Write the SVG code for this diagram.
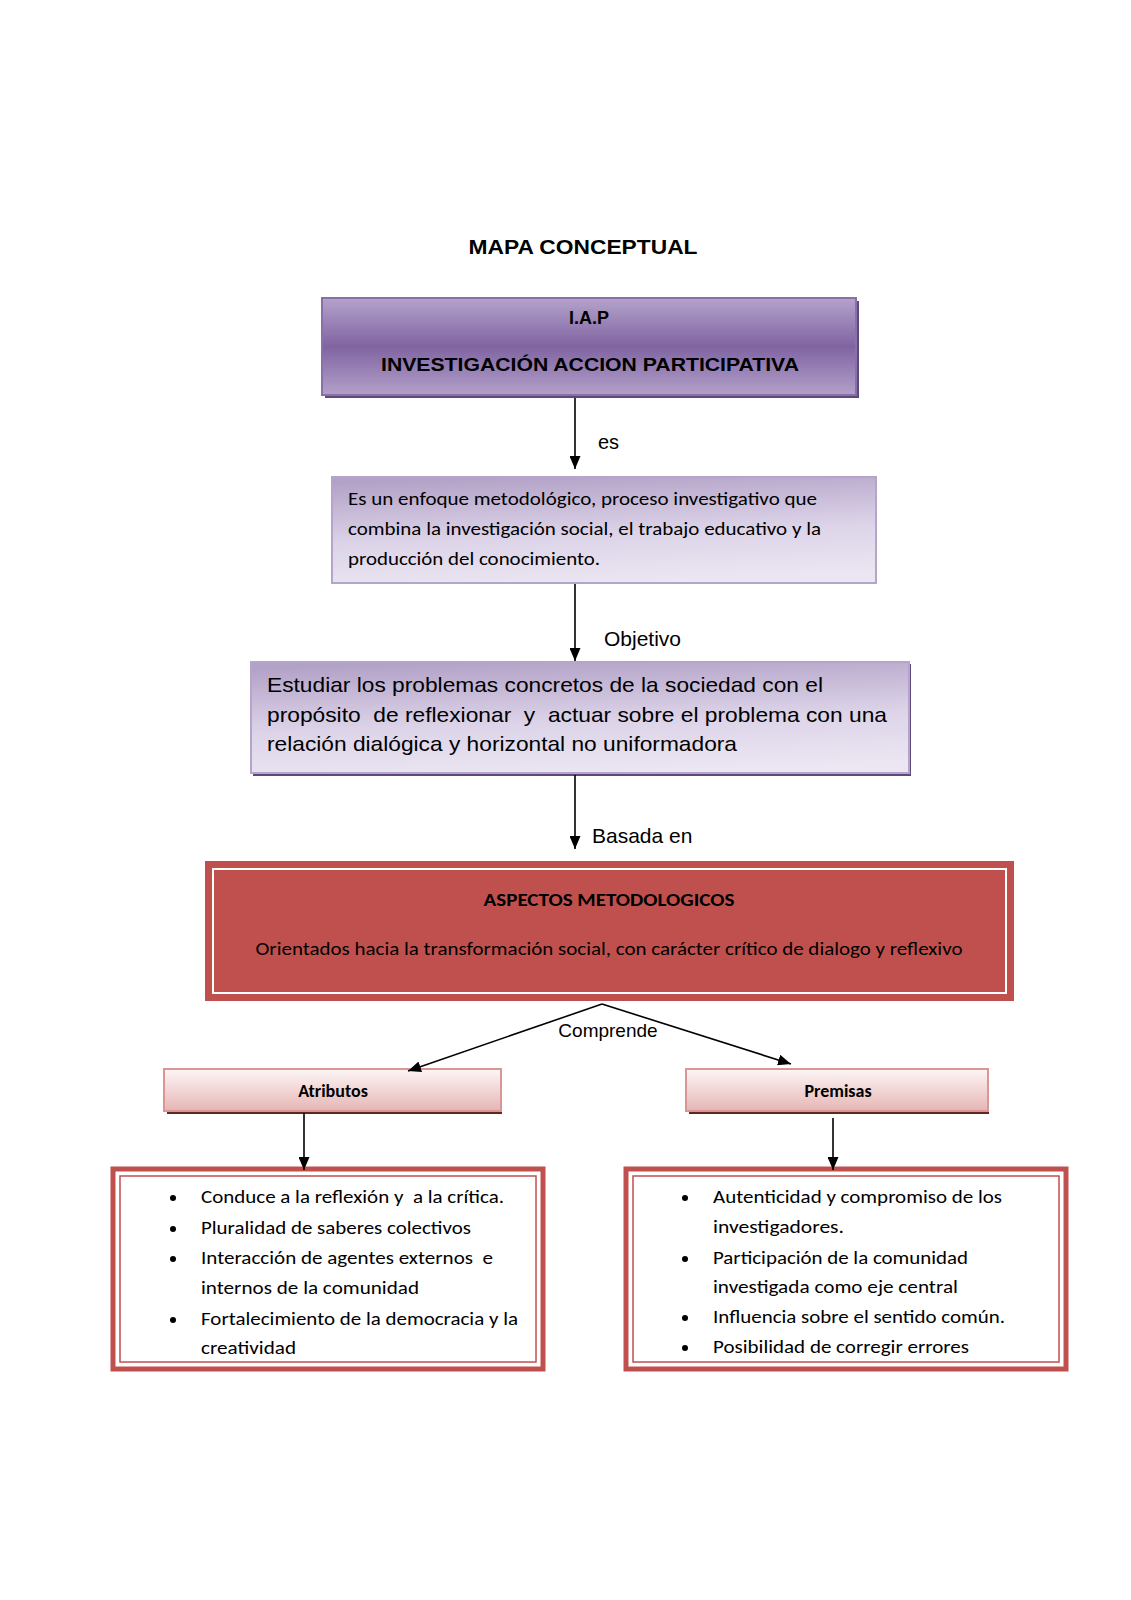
<svg xmlns="http://www.w3.org/2000/svg" width="1131" height="1600" viewBox="0 0 1131 1600">
<style>
.ar{font-family:"Liberation Sans",Arial,sans-serif;fill:#000}
.cb{font-family:Carlito,Lato,"Liberation Sans",sans-serif;fill:#000}
.b{font-weight:bold}
.conn{stroke:#000;stroke-width:1.6;fill:none}
.pre{white-space:pre}
</style>
<defs>
<linearGradient id="gP1" x1="0" y1="0" x2="0" y2="1">
<stop offset="0" stop-color="#b4a3cb"/>
<stop offset="0.5" stop-color="#8064a2"/>
<stop offset="1" stop-color="#b2a1c9"/>
</linearGradient>
<linearGradient id="gP2" x1="0.3" y1="0" x2="0.5" y2="1">
<stop offset="0" stop-color="#b3a2c7"/>
<stop offset="0.55" stop-color="#dcd3e8"/>
<stop offset="1" stop-color="#ebe6f2"/>
</linearGradient>
<linearGradient id="gR" x1="0" y1="0" x2="0" y2="1">
<stop offset="0" stop-color="#fdf6f6"/>
<stop offset="1" stop-color="#e5b6b5"/>
</linearGradient>
<marker id="ah2" viewBox="0 0 13 11" refX="13" refY="5.5" markerWidth="13" markerHeight="11" markerUnits="userSpaceOnUse" orient="auto">
<path d="M0,0 L13,5.5 L0,11 z" fill="#000"/>
</marker>
</defs>
<rect width="1131" height="1600" fill="#fff"/>

<text id="title" class="ar b" x="583" y="254" font-size="20" text-anchor="middle" textLength="229" lengthAdjust="spacingAndGlyphs">MAPA CONCEPTUAL</text>

<g id="n-iap">
<rect x="325" y="301" width="534" height="97" fill="#5f497a"/>
<rect x="322" y="298" width="534" height="97" fill="url(#gP1)" stroke="#8a70ab" stroke-width="2"/>
<text class="ar b" x="589" y="324" font-size="18" text-anchor="middle">I.A.P</text>
<text class="ar b" x="590" y="371" font-size="18" text-anchor="middle" textLength="418" lengthAdjust="spacingAndGlyphs">INVESTIGACIÓN ACCION PARTICIPATIVA</text>
</g>

<g id="n-enfoque">
<rect x="332" y="477" width="544" height="106" fill="url(#gP2)" stroke="#b5a4cb" stroke-width="2"/>
<text class="cb" font-size="18">
<tspan x="348" y="505" textLength="469" lengthAdjust="spacingAndGlyphs">Es un enfoque metodológico, proceso investigativo que</tspan>
<tspan x="348" y="535" textLength="473" lengthAdjust="spacingAndGlyphs">combina la investigación social, el trabajo educativo y la</tspan>
<tspan x="348" y="565" textLength="252" lengthAdjust="spacingAndGlyphs">producción del conocimiento.</tspan>
</text>
</g>

<g id="n-objetivo">
<rect x="253" y="664" width="658" height="112" fill="#5f497a"/>
<rect x="251" y="662" width="658" height="111" fill="url(#gP2)" stroke="#b5a4cb" stroke-width="2"/>
<text class="ar" font-size="21">
<tspan x="267" y="692" textLength="556" lengthAdjust="spacingAndGlyphs">Estudiar los problemas concretos de la sociedad con el</tspan>
<tspan class="pre" x="267" y="722" textLength="620" lengthAdjust="spacingAndGlyphs">propósito  de reflexionar  y  actuar sobre el problema con una</tspan>
<tspan x="267" y="751" textLength="470" lengthAdjust="spacingAndGlyphs">relación dialógica y horizontal no uniformadora</tspan>
</text>
</g>

<g id="n-aspectos">
<rect x="205" y="861" width="809" height="140" fill="#c0504d"/>
<rect x="213" y="869" width="793" height="124" fill="none" stroke="#fff" stroke-width="2"/>
<text class="cb b" x="609" y="906" font-size="17.5" text-anchor="middle" textLength="251" lengthAdjust="spacingAndGlyphs">ASPECTOS METODOLOGICOS</text>
<text class="cb" x="609" y="955" font-size="17.5" text-anchor="middle" textLength="707" lengthAdjust="spacingAndGlyphs">Orientados hacia la transformación social, con carácter crítico de dialogo y reflexivo</text>
</g>

<g id="n-atributos">
<rect x="167" y="1073" width="335" height="41" fill="#632523"/>
<rect x="164" y="1069" width="337" height="42" fill="url(#gR)" stroke="#d99694" stroke-width="2"/>
<text class="cb b" x="333" y="1097" font-size="18" text-anchor="middle">Atributos</text>
</g>

<g id="n-premisas">
<rect x="689" y="1073" width="300" height="41" fill="#632523"/>
<rect x="686" y="1069" width="302" height="42" fill="url(#gR)" stroke="#d99694" stroke-width="2"/>
<text class="cb b" x="838" y="1097" font-size="18" text-anchor="middle">Premisas</text>
</g>

<g id="n-lista-atributos">
<rect x="113" y="1169" width="430" height="200" fill="#fff" stroke="#c0504d" stroke-width="5"/>
<rect x="120" y="1176" width="416" height="186" fill="none" stroke="#c0504d" stroke-width="1.5"/>
<g fill="#000">
<circle cx="173" cy="1198" r="3"/>
<circle cx="173" cy="1229" r="3"/>
<circle cx="173" cy="1259" r="3"/>
<circle cx="173" cy="1320" r="3"/>
</g>
<text class="cb" font-size="18.3">
<tspan class="pre" x="201" y="1203" textLength="303" lengthAdjust="spacingAndGlyphs">Conduce a la reflexión y  a la crítica.</tspan>
<tspan x="201" y="1234" textLength="270" lengthAdjust="spacingAndGlyphs">Pluralidad de saberes colectivos</tspan>
<tspan class="pre" x="201" y="1264" textLength="292" lengthAdjust="spacingAndGlyphs">Interacción de agentes externos  e</tspan>
<tspan x="201" y="1294" textLength="218" lengthAdjust="spacingAndGlyphs">internos de la comunidad</tspan>
<tspan x="201" y="1325" textLength="317" lengthAdjust="spacingAndGlyphs">Fortalecimiento de la democracia y la</tspan>
<tspan x="201" y="1354" textLength="95" lengthAdjust="spacingAndGlyphs">creatividad</tspan>
</text>
</g>

<g id="n-lista-premisas">
<rect x="626" y="1169" width="440" height="200" fill="#fff" stroke="#c0504d" stroke-width="5"/>
<rect x="633" y="1176" width="426" height="186" fill="none" stroke="#c0504d" stroke-width="1.5"/>
<g fill="#000">
<circle cx="685" cy="1198" r="3"/>
<circle cx="685" cy="1259" r="3"/>
<circle cx="685" cy="1318" r="3"/>
<circle cx="685" cy="1348" r="3"/>
</g>
<text class="cb" font-size="18.3">
<tspan x="713" y="1203" textLength="289" lengthAdjust="spacingAndGlyphs">Autenticidad y compromiso de los</tspan>
<tspan x="713" y="1233" textLength="131" lengthAdjust="spacingAndGlyphs">investigadores.</tspan>
<tspan x="713" y="1264" textLength="255" lengthAdjust="spacingAndGlyphs">Participación de la comunidad</tspan>
<tspan x="713" y="1293" textLength="245" lengthAdjust="spacingAndGlyphs">investigada como eje central</tspan>
<tspan x="713" y="1323" textLength="292" lengthAdjust="spacingAndGlyphs">Influencia sobre el sentido común.</tspan>
<tspan x="713" y="1353" textLength="256" lengthAdjust="spacingAndGlyphs">Posibilidad de corregir errores</tspan>
</text>
</g>

<g id="connectors">
<line class="conn" x1="575" y1="398" x2="575" y2="469" marker-end="url(#ah2)"/>
<line class="conn" x1="575" y1="584" x2="575" y2="661" marker-end="url(#ah2)"/>
<line class="conn" x1="575" y1="775" x2="575" y2="849" marker-end="url(#ah2)"/>
<line class="conn" x1="602" y1="1004" x2="408" y2="1071" stroke-width="2.2" marker-end="url(#ah2)"/>
<line class="conn" x1="602" y1="1004" x2="791" y2="1064" stroke-width="2.2" marker-end="url(#ah2)"/>
<line class="conn" x1="304" y1="1113" x2="304" y2="1170" marker-end="url(#ah2)"/>
<line class="conn" x1="833" y1="1118" x2="833" y2="1170" marker-end="url(#ah2)"/>
<text class="ar" x="598" y="449" font-size="20">es</text>
<text class="ar" x="604" y="646" font-size="21">Objetivo</text>
<text class="ar" x="592" y="843" font-size="21">Basada en</text>
<text class="ar" x="608" y="1037" font-size="19" text-anchor="middle">Comprende</text>
</g>
</svg>
